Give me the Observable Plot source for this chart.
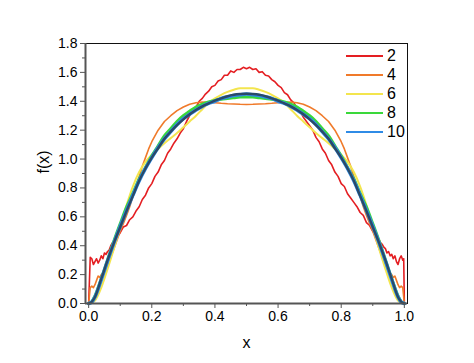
<!DOCTYPE html>
<html>
<head>
<meta charset="utf-8">
<script src="https://cdn.jsdelivr.net/npm/d3@7"></script>
<script src="https://cdn.jsdelivr.net/npm/@observablehq/plot@0.6"></script>
<style>
  html, body { margin: 0; padding: 0; background: #fff; }
  #wrap { position: relative; width: 474px; height: 363px; font-family: "Liberation Sans", Arial, sans-serif; }
  #legend { position: absolute; left: 346px; top: 46px; }
  .row { display: flex; align-items: center; height: 19.2px; }
  .sw { width: 37px; height: 0; margin-right: 4px; }
  .lab { font-size: 16px; color: #000; line-height: 16px; }
</style>
</head>
<body>
<div id="wrap"></div>
<script>
// Shared x grid for the smooth series
const gridX = [0,0.01,0.02,0.04,0.06,0.08,0.10,0.12,0.14,0.16,0.18,0.20,0.22,0.24,0.26,0.28,0.30,0.32,0.34,0.36,0.38,0.40,0.42,0.44,0.46,0.48,0.50,
  0.52,0.54,0.56,0.58,0.60,0.62,0.64,0.66,0.68,0.70,0.72,0.74,0.76,0.78,0.80,0.82,0.84,0.86,0.88,0.90,0.92,0.94,0.96,0.98,0.99,1.0];

const yellow6 = [0,0.005,0.02,0.11,0.24,0.38,0.53,0.68,0.81,0.91,0.98,1.03,1.07,1.11,1.145,1.18,1.22,1.26,1.30,1.345,1.39,1.42,1.445,1.465,1.48,1.49,1.49,
  1.49,1.48,1.465,1.445,1.42,1.39,1.345,1.30,1.26,1.22,1.18,1.145,1.11,1.07,1.03,0.98,0.91,0.81,0.68,0.53,0.38,0.24,0.11,0.02,0.005,0];

const green8 = [0,0.012,0.05,0.17,0.30,0.43,0.55,0.665,0.76,0.86,0.94,1.02,1.09,1.16,1.21,1.26,1.30,1.33,1.36,1.38,1.395,1.405,1.415,1.42,1.425,1.43,1.43,
  1.43,1.425,1.42,1.415,1.405,1.395,1.38,1.36,1.33,1.30,1.26,1.21,1.16,1.09,1.02,0.94,0.86,0.76,0.665,0.55,0.43,0.30,0.17,0.05,0.012,0];

const blue10 = [0,0.01,0.045,0.165,0.295,0.42,0.535,0.645,0.75,0.85,0.935,1.01,1.08,1.14,1.19,1.24,1.28,1.31,1.34,1.365,1.385,1.40,1.42,1.43,1.44,1.445,1.45,
  1.445,1.44,1.43,1.42,1.40,1.385,1.365,1.34,1.31,1.28,1.24,1.19,1.14,1.08,1.01,0.935,0.85,0.75,0.645,0.535,0.42,0.295,0.165,0.045,0.01,0];

const exact = [0,0.012,0.045,0.17,0.30,0.42,0.53,0.64,0.745,0.85,0.935,1.01,1.075,1.14,1.19,1.235,1.275,1.31,1.34,1.365,1.385,1.405,1.42,1.435,1.445,1.45,1.452,
  1.45,1.445,1.435,1.42,1.405,1.385,1.365,1.34,1.31,1.275,1.235,1.19,1.14,1.075,1.01,0.935,0.85,0.745,0.64,0.53,0.42,0.30,0.17,0.045,0.012,0];

// Orange series (4)
const orangeX = [0,0.005,0.01,0.015,0.02,0.025,0.03,0.035,0.04,0.05,0.06,0.07,0.08,0.09,0.10,0.11,0.12,0.13,0.14,0.15,0.16,0.17,0.18,0.19,0.20,
  0.22,0.24,0.26,0.28,0.30,0.32,0.34,0.36,0.38,0.40,0.42,0.44,0.46,0.48,0.50,
  0.52,0.54,0.56,0.58,0.60,0.62,0.64,0.66,0.68,0.70,0.72,0.74,0.76,0.78,0.80,0.81,0.82,0.83,0.84,0.85,0.86,0.87,0.88,0.89,0.90,0.91,0.92,0.93,0.94,0.95,
  0.96,0.965,0.97,0.975,0.98,0.985,0.99,0.995,1.0];
const orange4 = [0,0.11,0.12,0.11,0.13,0.16,0.19,0.18,0.20,0.22,0.27,0.32,0.38,0.44,0.50,0.555,0.61,0.67,0.74,0.81,0.88,0.95,1.01,1.07,1.12,
  1.20,1.26,1.30,1.335,1.36,1.38,1.39,1.395,1.393,1.39,1.386,1.383,1.381,1.379,1.378,
  1.379,1.381,1.383,1.386,1.39,1.393,1.395,1.39,1.38,1.36,1.335,1.30,1.26,1.20,1.12,1.07,1.01,0.95,0.88,0.81,0.74,0.67,0.61,0.555,0.50,0.44,0.38,0.32,0.27,0.22,
  0.20,0.18,0.19,0.16,0.13,0.11,0.12,0.11,0];

// Red series (2)
const redX = [0,0.005,0.01,0.015,0.02,0.025,0.03,0.035,0.04,0.045,0.05,0.055,0.06,0.065,0.07,0.075,0.08,0.09,
  0.10,0.11,0.12,0.13,0.14,0.15,0.16,0.17,0.18,0.19,0.20,0.21,0.22,0.23,0.24,0.25,0.26,0.27,0.28,0.29,
  0.30,0.31,0.32,0.33,0.34,0.35,0.36,0.37,0.38,0.39,0.40,0.41,0.42,0.43,0.44,0.45,0.46,0.47,0.48,0.49,
  0.50,0.51,0.52,0.53,0.54,0.55,0.56,0.57,0.58,0.59,0.60,0.61,0.62,0.63,0.64,0.65,0.66,0.67,0.68,0.69,
  0.70,0.71,0.72,0.73,0.74,0.75,0.76,0.77,0.78,0.79,0.80,0.81,0.82,0.83,0.84,0.85,0.86,0.87,0.88,0.89,
  0.90,0.91,0.92,0.925,0.93,0.935,0.94,0.945,0.95,0.955,0.96,0.965,0.97,0.975,0.98,0.985,0.99,0.995,0.998,1.0];
const red2 = [0,0.32,0.31,0.27,0.29,0.31,0.28,0.30,0.33,0.31,0.35,0.34,0.36,0.37,0.40,0.42,0.41,0.46,
  0.49,0.53,0.54,0.58,0.60,0.64,0.67,0.72,0.75,0.80,0.83,0.88,0.91,0.96,0.99,1.04,1.07,1.11,1.14,1.18,
  1.21,1.26,1.30,1.34,1.36,1.40,1.42,1.45,1.47,1.50,1.51,1.54,1.55,1.58,1.58,1.61,1.60,1.62,1.62,1.635,
  1.625,1.635,1.62,1.625,1.60,1.605,1.58,1.575,1.55,1.535,1.51,1.495,1.46,1.445,1.41,1.39,1.35,1.33,1.29,1.26,
  1.23,1.20,1.15,1.12,1.07,1.04,0.99,0.96,0.91,0.88,0.83,0.81,0.76,0.73,0.70,0.67,0.63,0.61,0.56,0.54,
  0.50,0.47,0.44,0.42,0.41,0.39,0.38,0.35,0.36,0.33,0.34,0.31,0.33,0.29,0.27,0.31,0.33,0.30,0.31,0];

const xTicks = [0,0.2,0.4,0.6,0.8,1.0];
const xMinor = [0.1,0.3,0.5,0.7,0.9];
const yTicks = [0,0.2,0.4,0.6,0.8,1.0,1.2,1.4,1.6,1.8];
const yMinor = [0.1,0.3,0.5,0.7,0.9,1.1,1.3,1.5,1.7];

const seriesNames = ["2","4","6","8","10"];
const seriesColors = ["#e41e22","#f07a2a","#f3e54e","#3ad83a","#2f8be6"];

const pts = (xs, ys) => xs.map((x, i) => ({x, y: ys[i]}));
const axisGray = "#555";

const chart = Plot.plot({
  width: 474,
  height: 363,
  marginLeft: 85,
  marginRight: 67,
  marginTop: 43,
  marginBottom: 60,
  style: {fontFamily: "Liberation Sans, Arial, sans-serif", fontSize: "14px", color: "#000", background: "#fff"},
  x: {domain: [-0.01, 1.01]},
  y: {domain: [0, 1.8]},
  marks: [
    Plot.frame({stroke: "#111", strokeWidth: 1}),
    Plot.line(pts(redX, red2), {x: "x", y: "y", stroke: seriesColors[0], strokeWidth: 1.6}),
    Plot.line(pts(orangeX, orange4), {x: "x", y: "y", stroke: seriesColors[1], strokeWidth: 1.6, curve: "linear"}),
    Plot.line(pts(gridX, yellow6), {x: "x", y: "y", stroke: seriesColors[2], strokeWidth: 2, curve: "monotone-x"}),
    Plot.line(pts(gridX, green8), {x: "x", y: "y", stroke: seriesColors[3], strokeWidth: 3.2, curve: "monotone-x"}),
    Plot.line(pts(gridX, blue10), {x: "x", y: "y", stroke: seriesColors[4], strokeWidth: 3.6, curve: "monotone-x"}),
    Plot.line(pts(gridX, exact), {x: "x", y: "y", stroke: "#2a4a68", strokeWidth: 2.4, curve: "monotone-x"}),
    Plot.ruleX([-0.01], {stroke: axisGray, strokeWidth: 2}),
    Plot.ruleY([0], {stroke: axisGray, strokeWidth: 2}),
    Plot.axisX(xTicks, {tickSize: 5, stroke: axisGray, tickPadding: 3, tickFormat: d3.format(".1f"), label: null}),
    Plot.axisX(xMinor, {tickSize: 3, stroke: axisGray, tickFormat: null, text: null, label: null}),
    Plot.axisY(yTicks, {tickSize: 5, stroke: axisGray, tickPadding: 3, tickFormat: d3.format(".1f"), label: null}),
    Plot.axisY(yMinor, {tickSize: 3, stroke: axisGray, tickFormat: null, text: null, label: null}),
    Plot.text(["f(x)"], {frameAnchor: "left", dx: -42, rotate: -90, fontSize: 16, fill: "#000"}),
    Plot.text(["x"], {frameAnchor: "bottom", dy: 44, fontSize: 16, fill: "#000"})
  ]
});

const wrap = document.getElementById("wrap");
wrap.appendChild(chart);

const legend = document.createElement("div");
legend.id = "legend";
seriesNames.forEach((name, i) => {
  const row = document.createElement("div");
  row.className = "row";
  const sw = document.createElement("div");
  sw.className = "sw";
  sw.style.borderTop = `2px solid ${seriesColors[i]}`;
  const lab = document.createElement("span");
  lab.className = "lab";
  lab.textContent = name;
  row.appendChild(sw);
  row.appendChild(lab);
  legend.appendChild(row);
});
wrap.appendChild(legend);
</script>
</body>
</html>
